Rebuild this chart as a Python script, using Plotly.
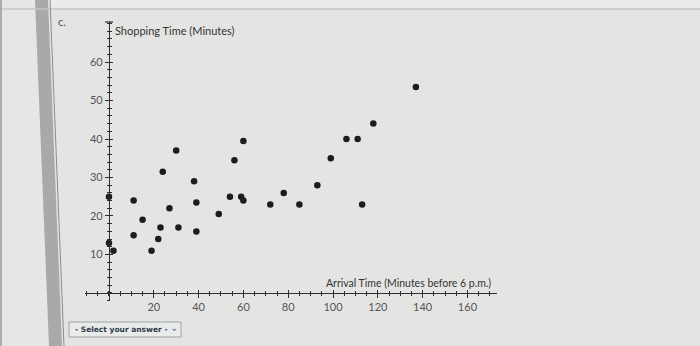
import plotly.graph_objects as go

# Data
arrival = [0, 0, 2, 11, 11, 15, 24, 30, 27, 23, 22, 19, 31, 38, 39, 39, 49, 54,
           56, 60, 59, 60, 72, 78, 85, 93, 99, 106, 111, 113, 118, 137]
shopping = [25, 13, 11, 24, 15, 19, 31.5, 37, 22, 17, 14, 11, 17, 29, 23.5, 16,
            20.5, 25, 34.5, 39.5, 25, 24, 23, 26, 23, 28, 35, 40, 40, 23, 44, 53.5]
x_ticks = [20, 40, 60, 80, 100, 120, 140, 160]
y_ticks = [10, 20, 30, 40, 50, 60]

W, H = 700, 346
def X(p):
    return p / W
def Y(p):
    return 1 - p / H

FONT = "Lato"
AX = "#2e2e2e"
x_range = [-10.7, 173.2]
y_range = [-2.08, 70.39]

fig = go.Figure()
fig.add_trace(go.Scatter(
    x=arrival, y=shopping, mode="markers",
    marker=dict(size=6.5, color="#1c1c1c"),
    hoverinfo="skip", showlegend=False))

common = dict(showgrid=False, zeroline=False)
fig.update_layout(
    width=W, height=H,
    margin=dict(l=0, r=0, t=0, b=0),
    paper_bgcolor="#e4e5e3",
    plot_bgcolor="rgba(0,0,0,0)",
    xaxis=dict(domain=[X(85), X(497)], range=x_range, anchor="free",
               position=Y(293), showline=True, linecolor=AX, linewidth=1.2,
               ticks="outside", ticklen=4, tickcolor=AX, tickwidth=1,
               tickmode="array", tickvals=x_ticks,
               ticktext=[str(v) for v in x_ticks],
               tickfont=dict(family=FONT, size=11, color="#555"),
               minor=dict(dtick=5, tick0=0, ticks="outside", ticklen=2,
                          tickcolor=AX, showgrid=False),
               **common),
    yaxis=dict(domain=[Y(301), Y(22)], range=y_range, anchor="free",
               position=X(109), showline=True, linecolor=AX, linewidth=1.2,
               ticks="outside", ticklen=4, tickcolor=AX, tickwidth=1,
               tickmode="array", tickvals=y_ticks,
               ticktext=[str(v) for v in y_ticks],
               tickfont=dict(family=FONT, size=11, color="#555"),
               minor=dict(dtick=2, tick0=0, ticks="outside", ticklen=2,
                          tickcolor=AX, showgrid=False),
               **common),
    xaxis2=dict(overlaying="x", range=x_range, anchor="free", position=Y(293),
                showline=False, ticks="inside", ticklen=3, tickcolor=AX,
                tickmode="array", tickvals=x_ticks, showticklabels=False,
                minor=dict(dtick=5, tick0=0, ticks="inside", ticklen=2,
                           tickcolor=AX, showgrid=False),
                **common),
    yaxis2=dict(overlaying="y", range=y_range, anchor="free", position=X(109),
                showline=False, ticks="inside", ticklen=3, tickcolor=AX,
                tickmode="array", tickvals=y_ticks, showticklabels=False,
                minor=dict(dtick=2, tick0=0, ticks="inside", ticklen=2,
                           tickcolor=AX, showgrid=False),
                **common),
)
# invisible trace to activate overlay axes
fig.add_trace(go.Scatter(x=[None], y=[None], xaxis="x2", yaxis="y2",
                         showlegend=False, hoverinfo="skip"))

shapes = [
    # top band
    dict(type="rect", xref="paper", yref="paper", x0=0, x1=1, y0=Y(9), y1=1,
         fillcolor="#ebebea", line=dict(width=0), layer="below"),
    dict(type="line", xref="paper", yref="paper", x0=0, x1=1, y0=Y(9), y1=Y(9),
         line=dict(color="#c4c5c3", width=1.5)),
    # left panel + gray bar
    dict(type="path", xref="paper", yref="paper",
         path=f"M {X(0)},{Y(0)} L {X(35)},{Y(0)} L {X(49)},{Y(346)} L {X(0)},{Y(346)} Z",
         fillcolor="#e6e6e4", line=dict(width=0), layer="below"),
    dict(type="path", xref="paper", yref="paper",
         path=f"M {X(35)},{Y(0)} L {X(48)},{Y(0)} L {X(62)},{Y(346)} L {X(49)},{Y(346)} Z",
         fillcolor="#a8a9a8", line=dict(width=0), layer="below"),
    dict(type="line", xref="paper", yref="paper", x0=X(50), x1=X(64),
         y0=Y(0), y1=Y(346), line=dict(color="#8a8b8a", width=1)),
    dict(type="line", xref="paper", yref="paper", x0=X(1), x1=X(1),
         y0=0, y1=1, line=dict(color="#9a9b9a", width=1.5)),
    # cap at top of y axis
    dict(type="line", xref="paper", yref="paper", x0=X(105), x1=X(113),
         y0=Y(22), y1=Y(22), line=dict(color=AX, width=1.2)),
    # dropdown box
    dict(type="rect", xref="paper", yref="paper", x0=X(69), x1=X(181),
         y0=Y(337), y1=Y(322), fillcolor="#e9eaea",
         line=dict(color="#9fa4a8", width=1)),
]
fig.update_layout(shapes=shapes)

annotations = [
    dict(text="Shopping Time (Minutes)", x=X(113), y=Y(30), xanchor="left",
         yanchor="middle", font=dict(family=FONT, size=11, color="#333")),
    dict(text="Arrival Time (Minutes before 6 p.m.)", x=X(493), y=Y(283),
         xanchor="right", yanchor="middle",
         font=dict(family=FONT, size=10.5, color="#333")),
    dict(text="c.", x=X(56), y=Y(21), xanchor="left", yanchor="middle",
         font=dict(family=FONT, size=11, color="#555")),
    dict(text="<b>- Select your answer -</b>", x=X(73), y=Y(329.5),
         xanchor="left", yanchor="middle",
         font=dict(family="DejaVu Sans", size=7.5, color="#2f3b48")),
    dict(text="⌄", x=X(174), y=Y(327), xanchor="center", yanchor="middle",
         font=dict(family="DejaVu Sans", size=10, color="#5a6a80")),
]
for a in annotations:
    a.update(xref="paper", yref="paper", showarrow=False)
fig.update_layout(annotations=annotations)

fig.write_html("out.html")
